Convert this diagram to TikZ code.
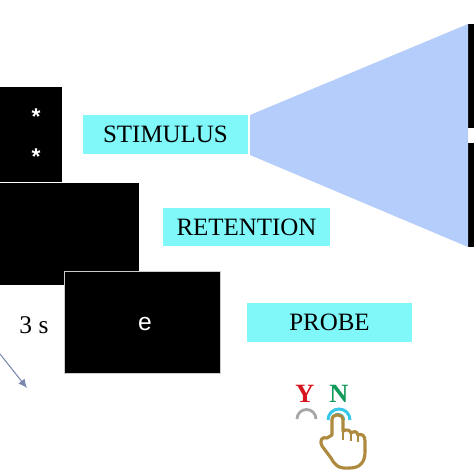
\documentclass[tikz,border=0pt]{standalone}
\usepackage{fontspec}
\setmainfont{Liberation Serif}
\newfontfamily\labelsans{Liberation Sans}
\definecolor{labelcyan}{HTML}{80F7F9}
\definecolor{fanblue}{HTML}{B5CDFB}
\definecolor{handbrown}{HTML}{AE8A3E}
\definecolor{arrowgrey}{HTML}{7A88AE}
\definecolor{archcyan}{HTML}{35C8E8}
\definecolor{yesred}{HTML}{D8141E}
\definecolor{nogreen}{HTML}{129A5A}
\usetikzlibrary{arrows.meta}
\tikzset{
  screenbox/.style={fill=black,draw=none,anchor=north west,inner sep=0pt},
  labelbox/.style={fill=labelcyan,draw=none,inner sep=0pt,font=\fontsize{14.2}{14.2}\selectfont},
  screentext/.style={text=white,inner sep=0pt,font=\labelsans\bfseries\fontsize{13}{13}\selectfont},
}
\begin{document}
\begin{tikzpicture}[x=0.02cm,y=-0.02cm]
  \useasboundingbox (0,0) rectangle (474,474);
  % screens
  \node[screenbox,minimum width=62*0.02cm,minimum height=95*0.02cm](S0)at(0,87){};
  \node[screenbox,minimum width=139*0.02cm,minimum height=102*0.02cm](S1)at(0,183){};
  \node[screenbox,draw=gray!40,line width=0.25pt,minimum width=156*0.02cm,minimum height=102*0.02cm](S2)at(64,271){};
  \node[screenbox,minimum width=6*0.02cm,minimum height=104*0.02cm](R0)at(468,24){};
  \node[screenbox,minimum width=6*0.02cm,minimum height=104*0.02cm](R1)at(468,143){};
  \node[screentext](A0)at(36,117){*};
  \node[screentext](A1)at(36,157){*};
  \node[screentext,font=\labelsans\fontsize{14}{14}\selectfont](E0)at(145,324){e};
  % labels
  \node[labelbox,minimum width=165*0.02cm,minimum height=39*0.02cm](L0)at(165.5,134.5){\raisebox{-0.5pt}{STIMULUS}};
  \node[labelbox,minimum width=167*0.02cm,minimum height=38*0.02cm](L1)at(246.5,227){\raisebox{-0.5pt}{RETENTION}};
  \node[labelbox,minimum width=165*0.02cm,minimum height=39*0.02cm](L2)at(329.5,322.5){\raisebox{-0.5pt}{PROBE}};
  \node[inner sep=0pt,font=\fontsize{14.5}{14.5}\selectfont](T0)at(34,325){3 s};
  % fan
  \fill[fanblue](250,115)--(468,24)--(468,247)--(250,155)--cycle;
  % arrow
  \coordinate(B0)at(0,354);
  \coordinate(B1)at(27,388);
  \draw[arrowgrey,line width=0.6pt,-{Latex[length=5pt,width=4.5pt]}](B0)--(B1);
  % buttons
  \node[inner sep=0pt,text=yesred,font=\bfseries\fontsize{15}{15}\selectfont](Y0)at(305,394){Y};
  \node[inner sep=0pt,text=nogreen,font=\bfseries\fontsize{15}{15}\selectfont](N0)at(339,394){N};
  \draw[gray!70,line width=1.6pt](297,419)arc[start angle=180,end angle=360,radius=9.5];
  \draw[archcyan,line width=1.7pt](328,420)arc[start angle=180,end angle=360,radius=11];
  \draw[archcyan,line width=1.3pt](332,420)arc[start angle=180,end angle=360,radius=6];
  % hand
  \draw[handbrown,fill=white,line width=1.8pt,line join=round]
    (332,435)--(332,420) .. controls (332,413) and (343,413) .. (343,420)
    --(343,431) .. controls (347,429) and (350,430) .. (351,433)
    .. controls (354,431) and (357,431) .. (358,435)
    .. controls (362,433) and (365,436) .. (365,441)
    --(365,452) .. controls (365,462) and (360,468) .. (350,468)
    .. controls (338,469) and (335,465) .. (331,458)
    --(322,446) .. controls (319,441) and (322,436) .. (327,438)
    --cycle;
  \draw[handbrown,line width=1.3pt](351,433)--(351,441);
  \draw[handbrown,line width=1.3pt](358,435)--(358,442);
  \draw[handbrown,line width=1.3pt](343,431)--(343,440);
\end{tikzpicture}
\end{document}
